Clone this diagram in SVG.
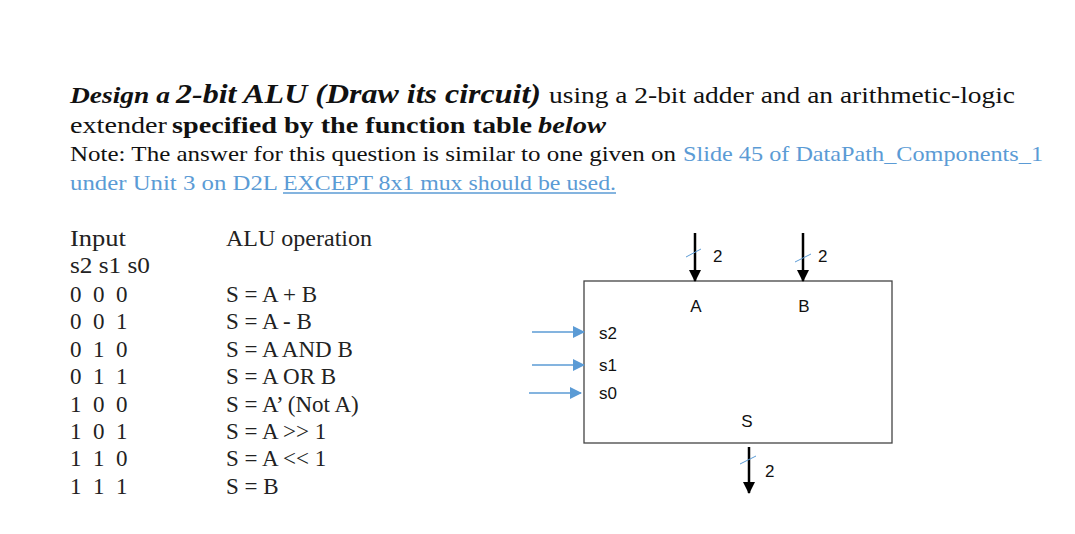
<svg xmlns="http://www.w3.org/2000/svg" width="1075" height="534" viewBox="0 0 1075 534">
<style>
.t{font-family:"Liberation Serif",serif;fill:#111}
.bl{fill:#5b9bd5}
.s{font-family:"Liberation Sans",sans-serif;font-size:17px;fill:#111}
.tb{font-family:"Liberation Serif",serif;font-size:23px;fill:#222}
</style>
<defs>
<marker id="ak" markerWidth="12" markerHeight="12" refX="11" refY="6" orient="auto" markerUnits="userSpaceOnUse"><path d="M0,0 L12,6 L0,12 Z" fill="#000"/></marker>
<marker id="ab" markerWidth="12" markerHeight="12" refX="11" refY="6" orient="auto" markerUnits="userSpaceOnUse"><path d="M0,0 L12,6 L0,12 Z" fill="#5b9bd5"/></marker>
</defs>
<rect width="1075" height="534" fill="#fff"/>
<g id="title">
<text class="t" x="70" y="103" font-size="23" font-weight="bold" font-style="italic" textLength="100" lengthAdjust="spacingAndGlyphs">Design a</text>
<text class="t" x="176" y="103" font-size="28" font-weight="bold" font-style="italic" textLength="365" lengthAdjust="spacingAndGlyphs">2-bit ALU (Draw its circuit)</text>
<text class="t" x="549" y="103" font-size="24" textLength="466" lengthAdjust="spacingAndGlyphs">using a 2-bit adder and an arithmetic-logic</text>
<text class="t" x="70" y="133" font-size="24" textLength="97" lengthAdjust="spacingAndGlyphs">extender</text>
<text class="t" x="172" y="133" font-size="24" font-weight="bold" textLength="360" lengthAdjust="spacingAndGlyphs">specified by the function table</text>
<text class="t" x="538" y="133" font-size="24" font-weight="bold" font-style="italic" textLength="68" lengthAdjust="spacingAndGlyphs">below</text>
<text class="t" x="70" y="161" font-size="22" textLength="606" lengthAdjust="spacingAndGlyphs">Note: The answer for this question is similar to one given on</text>
<text class="t bl" x="683" y="161" font-size="22" textLength="360" lengthAdjust="spacingAndGlyphs">Slide 45 of DataPath_Components_1</text>
<text class="t bl" x="70" y="190" font-size="22" textLength="208" lengthAdjust="spacingAndGlyphs">under Unit 3 on D2L</text>
<text class="t bl" x="283" y="190" font-size="22" textLength="333" lengthAdjust="spacingAndGlyphs">EXCEPT 8x1 mux should be used.</text>
<line x1="283" y1="193" x2="616" y2="193" stroke="#5b9bd5" stroke-width="1.5"/>
</g>
<g id="table">
<text class="tb" x="70" y="246" textLength="56" lengthAdjust="spacingAndGlyphs">Input</text>
<text class="tb" x="226" y="246" textLength="146" lengthAdjust="spacingAndGlyphs">ALU operation</text>
<text class="tb" x="70" y="273" textLength="80" lengthAdjust="spacingAndGlyphs">s2 s1 s0</text>
<text class="tb" y="302"><tspan x="70">0</tspan><tspan x="93">0</tspan><tspan x="116">0</tspan></text><text class="tb" x="226" y="302">S = A + B</text>
<text class="tb" y="329"><tspan x="70">0</tspan><tspan x="93">0</tspan><tspan x="116">1</tspan></text><text class="tb" x="226" y="329">S = A - B</text>
<text class="tb" y="357"><tspan x="70">0</tspan><tspan x="93">1</tspan><tspan x="116">0</tspan></text><text class="tb" x="226" y="357">S = A AND B</text>
<text class="tb" y="384"><tspan x="70">0</tspan><tspan x="93">1</tspan><tspan x="116">1</tspan></text><text class="tb" x="226" y="384">S = A OR B</text>
<text class="tb" y="412"><tspan x="70">1</tspan><tspan x="93">0</tspan><tspan x="116">0</tspan></text><text class="tb" x="226" y="412">S = A’ (Not A)</text>
<text class="tb" y="439"><tspan x="70">1</tspan><tspan x="93">0</tspan><tspan x="116">1</tspan></text><text class="tb" x="226" y="439">S = A &gt;&gt; 1</text>
<text class="tb" y="466"><tspan x="70">1</tspan><tspan x="93">1</tspan><tspan x="116">0</tspan></text><text class="tb" x="226" y="466">S = A &lt;&lt; 1</text>
<text class="tb" y="494"><tspan x="70">1</tspan><tspan x="93">1</tspan><tspan x="116">1</tspan></text><text class="tb" x="226" y="494">S = B</text>
</g>
<g id="alu">
<rect x="584" y="281" width="308" height="162" fill="#fff" stroke="#444" stroke-width="1.3"/>
<text class="s" x="696" y="312" text-anchor="middle">A</text>
<text class="s" x="804" y="312" text-anchor="middle">B</text>
<text class="s" x="599" y="339">s2</text>
<text class="s" x="599" y="371">s1</text>
<text class="s" x="599" y="399">s0</text>
<text class="s" x="747" y="427" text-anchor="middle">S</text>
</g>
<g id="connectors" fill="none">
<line x1="695" y1="233" x2="695" y2="281" stroke="#000" stroke-width="2.5" marker-end="url(#ak)"/>
<line x1="803" y1="233" x2="803" y2="281" stroke="#000" stroke-width="2.5" marker-end="url(#ak)"/>
<line x1="749" y1="447" x2="749" y2="493" stroke="#000" stroke-width="2.5" marker-end="url(#ak)"/>
<line x1="686" y1="257" x2="701" y2="249" stroke="#5b9bd5" stroke-width="1"/>
<line x1="795" y1="262" x2="811" y2="254" stroke="#5b9bd5" stroke-width="1"/>
<line x1="740" y1="464" x2="756" y2="456" stroke="#5b9bd5" stroke-width="1"/>
<line x1="532" y1="332" x2="584" y2="332" stroke="#5b9bd5" stroke-width="1.5" marker-end="url(#ab)"/>
<line x1="532" y1="365" x2="584" y2="365" stroke="#5b9bd5" stroke-width="1.5" marker-end="url(#ab)"/>
<line x1="529" y1="393" x2="581" y2="393" stroke="#5b9bd5" stroke-width="1.5" marker-end="url(#ab)"/>
</g>
<g id="labels">
<text class="s" x="713" y="262">2</text>
<text class="s" x="818" y="262">2</text>
<text class="s" x="765" y="477">2</text>
</g>
</svg>
